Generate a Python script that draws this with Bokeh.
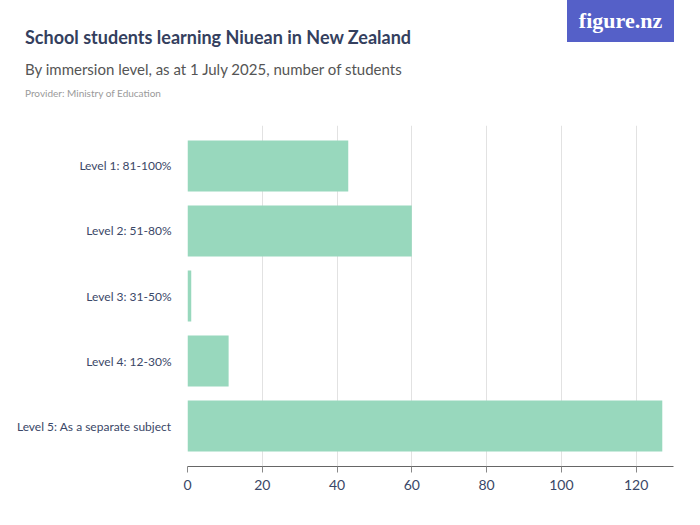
from bokeh.plotting import figure
from bokeh.layouts import column
from bokeh.models import FactorRange, Range1d, FixedTicker, Div
from bokeh.embed import file_html
from bokeh.resources import INLINE

categories = ["Level 1: 81-100%", "Level 2: 51-80%", "Level 3: 31-50%",
              "Level 4: 12-30%", "Level 5: As a separate subject"]
students = [43, 60, 1, 11, 127]
x_ticks = [0, 20, 40, 60, 80, 100, 120]

title_text = "School students learning Niuean in New Zealand"
subtitle_text = "By immersion level, as at 1 July 2025, number of students"
provider_text = "Provider: Ministry of Education"
logo_text = "figure.nz"

FONT = "Lato"
TEXT_DARK = "#3a4767"

W = 700
HEAD_H = 125

# ---------------- header (real text in a Div) ----------------
def span(text, left, top, size, color, weight="normal", font=FONT):
    return (f'<div style="position:absolute;left:{left}px;top:{top}px;'
            f'font-family:\'{font}\';font-size:{size}px;line-height:{size}px;'
            f'font-weight:{weight};color:{color};white-space:nowrap;">{text}</div>')

header_html = (
    f'<div style="position:relative;width:{W}px;height:{HEAD_H}px;margin:0;padding:0;">'
    + span(title_text, 25, 28, 18, "#34405e", weight="bold")
    + span(subtitle_text, 25, 62, 15, "#555555")
    + span(provider_text, 25, 88, 10, "#9a9a9a")
    + ('<div style="position:absolute;left:567px;top:0px;width:107px;height:42px;'
       'background:#5560c8;display:flex;align-items:center;justify-content:center;">'
       f'<span style="font-family:\'Liberation Serif\';font-size:22px;font-weight:bold;'
       f'color:white;line-height:22px;">{logo_text}</span></div>')
    + '</div>'
)
h = Div(text=header_html, width=W, height=HEAD_H, margin=0)

# ---------------- chart ----------------
H = 395
FL, FT = 187, 0
FR, FB = W - 673, H - (466 - HEAD_H)

p = figure(width=W, height=H, output_backend="svg", toolbar_location=None,
           y_range=FactorRange(factors=categories[::-1], range_padding=0.123,
                               range_padding_units="absolute"),
           x_range=Range1d(0, 130),
           min_border_left=FL, min_border_right=FR, min_border_top=FT,
           min_border_bottom=FB, margin=0)
p.outline_line_color = None
p.background_fill_color = "white"
p.border_fill_color = "white"

p.hbar(y=categories, right=students, left=0, height=0.785,
       color="#98d8bd", line_color=None)

p.xaxis.ticker = FixedTicker(ticks=x_ticks)
p.xaxis.axis_line_color = "#666666"
p.xaxis.major_tick_line_color = "#888888"
p.xaxis.major_tick_out = 6
p.xaxis.major_tick_in = 0
p.xaxis.minor_tick_line_color = None
p.xaxis.major_label_text_font = FONT
p.xaxis.major_label_text_font_size = "14px"
p.xaxis.major_label_text_color = TEXT_DARK
p.xaxis.major_label_standoff = 7

p.yaxis.axis_line_color = None
p.yaxis.major_tick_line_color = None
p.yaxis.minor_tick_line_color = None
p.yaxis.major_label_text_font = FONT
p.yaxis.major_label_text_font_size = "12px"
p.yaxis.major_label_text_color = TEXT_DARK
p.yaxis.major_label_standoff = 10

p.xgrid.grid_line_color = "#e2e2e2"
p.xgrid.ticker = FixedTicker(ticks=x_ticks)
p.ygrid.grid_line_color = None

layout = column(h, p, spacing=0)
open("out.html", "w").write(file_html(layout, INLINE))
